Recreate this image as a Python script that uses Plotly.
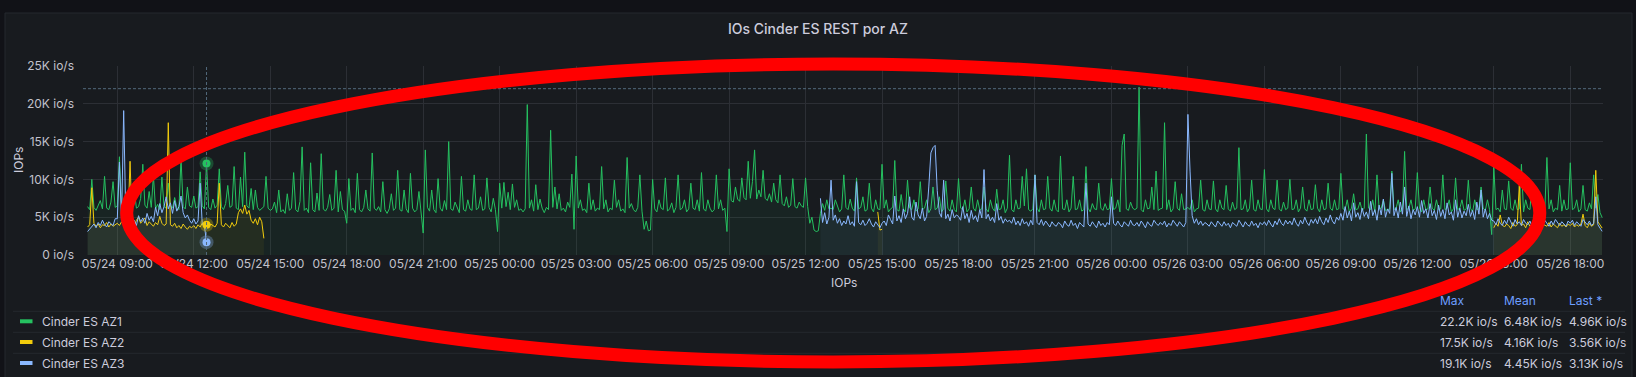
import pandas as pd
import plotly.graph_objects as go

# ---------------- data (values in K io/s, 5-minute samples) ----------------
green_start = "2023-05-24 07:50"
green_0524 = [
    6.4, 6.0,
    10.0, 6.3, 5.9, 6.6, 7.2, 6.1, 10.4, 6.2, 6.0, 7.0, 9.7, 6.3,
    6.5, 13.0, 6.4, 6.1, 8.0, 6.3, 6.8, 6.0, 8.6, 6.2, 6.4, 7.5,
    12.0, 6.6, 6.2, 8.4, 6.3, 10.5, 6.1, 6.7, 6.0, 10.3, 6.4, 6.2,
    9.5, 6.5, 6.2, 7.6, 6.3, 6.0, 12.8, 6.4, 6.1, 9.0, 6.5, 6.3,
    7.8, 6.2, 6.4, 11.0, 6.5, 6.1, 12.1, 6.3, 6.0, 7.4, 6.2, 6.6,
    11.4, 6.4, 6.0, 6.8, 9.2, 6.3, 6.5, 11.7, 6.2, 6.0, 10.3, 6.4,
    13.6, 6.5, 6.2, 8.8, 6.0, 8.6, 6.3, 5.9, 6.1, 6.4, 10.4, 6.2,
    5.9, 6.1, 7.0, 5.6, 8.6, 5.7, 6.0, 5.5, 8.1, 5.9, 6.2, 10.9,
    6.0, 5.7, 7.1, 14.3, 5.9, 6.2, 5.6, 12.2, 6.0, 5.7, 8.2, 5.9,
    13.4, 6.1, 5.8, 6.3, 8.0, 5.9, 6.2, 11.2, 5.7, 8.4, 6.0, 5.8,
    4.2, 10.1, 5.9, 6.2, 5.6, 10.8, 6.0, 5.7, 6.3, 8.6, 6.1, 5.8,
    13.5, 6.2, 5.9, 6.4, 5.7, 9.7, 6.0, 5.5, 6.1, 8.1, 5.9, 6.2,
    11.2, 6.0, 5.8, 8.6, 6.1, 5.6, 10.8, 6.2, 5.7, 6.0, 8.4, 5.9,
    2.9, 13.9, 6.3, 5.8, 8.6, 6.0, 5.6, 10.1, 6.2, 5.8, 7.2, 6.0,
    15.0, 6.1, 5.9, 7.0, 6.2, 5.6, 10.4, 6.0, 5.8, 7.3, 6.1, 5.9,
    10.6, 6.0, 6.2, 7.7, 5.9, 6.1, 10.2, 6.3, 5.7, 7.5, 6.0, 3.1,
]
green_0525 = [
    9.5, 6.2, 9.6, 6.4, 8.3, 6.0, 9.4, 6.3, 7.3, 5.9, 6.1, 5.7,
    6.1, 19.9, 6.2, 7.3, 5.8, 9.3, 6.0, 7.4, 6.2, 5.6, 6.3, 6.0,
    16.5, 6.3, 9.0, 6.1, 8.1, 5.9, 6.2, 5.7, 7.0, 6.3, 10.7, 3.4,
    13.1, 6.2, 7.3, 5.9, 6.1, 5.6, 9.5, 6.0, 7.3, 5.8, 6.2, 6.0,
    11.7, 6.1, 7.3, 5.7, 6.2, 6.0, 9.9, 6.3, 7.3, 5.8, 6.1, 5.6,
    12.9, 6.2, 6.8, 6.0, 5.7, 6.3, 10.6, 5.8, 3.4, 4.5, 3.2, 3.3,
    10.0, 6.1, 5.7, 7.3, 6.2, 6.0, 10.2, 5.8, 6.1, 6.9, 5.6, 6.3,
    10.6, 6.0, 6.2, 7.3, 5.7, 6.1, 9.5, 6.2, 6.0, 7.3, 5.8, 10.9,
    6.1, 5.8, 7.3, 6.2, 5.7, 6.0, 10.6, 6.1, 7.3, 5.9, 6.2, 3.1,
    11.4, 7.2, 7.0, 9.0, 7.4, 7.1, 10.2, 7.6, 7.3, 12.4, 7.5, 9.7,
    13.9, 7.4, 8.6, 7.7, 11.2, 7.5, 7.2, 8.1, 7.0, 9.5, 7.3, 6.9,
    10.6, 6.8, 6.5, 7.7, 6.3, 6.6, 10.1, 6.4, 6.2, 7.0, 6.5, 6.3,
    10.2, 6.4, 4.2, 5.0, 3.3, 3.1, 3.2, 5.5, 6.8, 5.9, 7.3, 6.1,
    6.2, 6.0, 7.3, 6.4, 5.7, 6.1, 10.6, 6.3, 6.0, 7.4, 6.2, 5.8,
    10.2, 6.1, 6.3, 7.7, 5.8, 6.0, 9.5, 6.2, 5.7, 7.3, 6.1, 6.0,
    12.0, 6.2, 7.3, 5.7, 6.1, 6.3, 12.5, 6.0, 5.8, 8.0, 6.1, 5.7,
    9.9, 6.2, 6.0, 7.3, 5.8, 6.1, 9.7, 6.0, 6.2, 7.3, 5.6, 6.1,
    9.0, 6.0, 6.2, 7.7, 5.7, 6.1, 9.8, 6.2, 5.8, 7.3, 6.0, 5.7,
    10.1, 6.2, 6.0, 7.3, 5.7, 6.1, 9.0, 6.2, 5.8, 7.3, 6.0, 6.1,
    9.0, 6.1, 5.7, 7.3, 6.2, 5.8, 8.7, 6.0, 6.1, 7.3, 5.6, 6.2,
    13.2, 6.0, 5.7, 7.3, 6.1, 6.2, 10.4, 6.5, 11.4, 6.0, 5.8, 6.1,
    10.6, 6.2, 5.7, 7.3, 6.0, 6.1, 10.4, 6.2, 5.8, 7.3, 6.0, 5.7,
    13.1, 6.1, 6.0, 7.3, 5.7, 6.2, 10.4, 6.0, 6.1, 7.3, 5.8, 6.0,
    11.7, 6.2, 5.7, 6.8, 6.1, 6.0, 9.5, 6.2, 5.9, 6.8, 6.0, 6.1,
]
green_0526 = [
    10.1, 6.0, 6.2, 7.3, 5.7, 14.5, 16.0, 6.1, 5.9, 7.0, 6.2, 6.0,
    6.2, 22.2, 6.0, 5.7, 7.3, 6.1, 6.2, 9.0, 6.0, 11.1, 5.9, 6.1,
    6.2, 17.5, 6.0, 7.3, 5.7, 6.1, 9.7, 6.2, 5.9, 8.1, 6.0, 6.1,
    6.3, 6.0, 7.3, 5.7, 6.1, 6.2, 9.9, 6.0, 5.8, 7.3, 6.1, 6.0,
    9.8, 6.1, 5.7, 7.3, 6.2, 6.0, 9.2, 6.1, 5.8, 7.0, 6.0, 6.2,
    14.2, 6.0, 6.1, 7.3, 5.7, 6.2, 9.9, 6.0, 5.8, 7.3, 6.1, 6.0,
    11.3, 6.1, 5.7, 7.3, 6.2, 6.0, 9.9, 6.1, 5.8, 7.0, 6.0, 6.2,
    10.0, 6.0, 6.1, 7.3, 5.7, 6.2, 9.0, 6.1, 5.8, 7.3, 6.0, 6.1,
    9.3, 6.2, 5.7, 7.3, 6.0, 6.1, 9.5, 6.2, 5.9, 7.3, 6.0, 6.1,
    10.8, 6.1, 6.0, 7.3, 5.7, 6.2, 8.1, 6.0, 6.1, 7.0, 5.9, 6.2,
    16.0, 6.2, 6.0, 7.3, 5.7, 10.6, 6.1, 6.2, 7.3, 5.9, 6.0, 6.1,
    11.1, 6.0, 6.2, 7.3, 5.7, 6.1, 13.7, 6.0, 6.2, 7.3, 5.9, 6.1,
    10.9, 6.2, 5.7, 7.3, 6.0, 6.1, 9.0, 6.2, 5.9, 7.3, 6.0, 6.1,
    10.6, 6.0, 6.2, 7.3, 5.7, 6.1, 10.2, 6.0, 6.2, 7.3, 5.9, 6.1,
    9.9, 6.2, 5.7, 7.3, 6.0, 6.1, 9.0, 6.2, 5.9, 7.3, 6.0, 2.7,
    11.7, 6.0, 6.2, 5.7, 8.6, 6.1, 6.0, 9.8, 6.2, 5.9, 7.3, 6.0,
    6.1, 12.0, 5.7, 7.3, 6.2, 6.0, 9.5, 6.1, 5.8, 7.3, 6.0, 6.2,
    6.0, 12.9, 6.1, 7.3, 5.7, 6.2, 6.0, 9.2, 5.8, 7.3, 6.0, 6.1,
    12.2, 6.0, 6.2, 7.3, 5.7, 6.1, 9.2, 6.0, 5.8, 6.9, 6.1, 10.6,
    6.2, 8.0, 5.6, 4.96,
]

yellow_seg1_start = "2023-05-24 07:50"
yellow_seg1 = [
    3.7, 4.0,
    8.9, 4.2, 3.8, 4.1, 3.6, 4.0, 3.9, 4.3, 3.7, 4.1, 3.8, 4.0,
    4.2, 3.9, 4.4, 4.0, 3.8, 4.3, 12.4, 4.1, 3.9, 4.6, 5.0, 4.2,
    4.5, 4.9, 3.9, 4.4, 4.1, 3.8, 4.3, 4.0, 5.1, 4.2, 3.9, 4.1,
    17.5, 4.0, 3.8, 4.2, 3.6, 3.9, 3.5, 4.1, 3.7, 3.4, 3.8, 3.6,
    3.9, 3.5, 4.0, 3.7, 4.2, 3.8, 4.0, 3.6, 4.1, 3.9, 3.7, 4.2,
    9.5, 4.0, 3.7, 4.2, 3.9, 3.6, 4.3, 3.8, 4.1, 5.6, 6.1, 5.5,
    6.6, 5.4, 5.9, 4.6, 4.2, 4.8, 4.0, 5.0, 4.4, 2.2,
]
yellow_seg2_start = "2023-05-25 14:50"
yellow_seg2 = [5.7, 3.3, 3.4]
yellow_seg3_start = "2023-05-26 15:00"
yellow_seg3 = [
    3.6, 4.2, 3.8, 5.3, 4.0, 3.7, 4.1, 3.9, 3.5, 4.3, 3.8, 4.0,
    9.2, 3.9, 4.1, 3.6, 4.4, 3.8, 4.0, 3.7, 4.2, 3.9, 3.6, 4.1,
    4.0, 3.8, 4.3, 3.7, 4.1, 3.9, 3.6, 4.2, 3.8, 4.0, 3.7, 4.1,
    3.9, 4.2, 3.7, 4.0, 3.8, 4.1, 5.4, 3.9, 3.6, 4.2, 3.8, 4.0,
    11.2, 4.4, 3.9, 3.56,
]

blue_seg1_start = "2023-05-24 07:50"
blue_seg1 = [
    3.1, 3.4,
    3.8, 4.1, 3.6, 4.3, 3.9, 4.6, 4.0, 3.7, 4.4, 4.2, 3.9, 4.8,
    4.8, 12.3, 4.5, 19.1, 5.0, 4.3, 5.4, 4.1, 4.6, 3.9, 5.2, 4.4,
    4.9, 4.2, 5.5, 4.6, 5.1, 4.4, 6.3, 5.2, 6.8, 5.6, 6.4, 7.7,
    6.1, 6.9, 5.5, 7.2, 5.8, 6.4, 7.8, 5.6, 4.9, 5.3, 4.6, 4.2,
    4.8, 4.1, 4.5, 9.5, 4.0, 3.9, 1.7,
]
blue_seg2_start = "2023-05-25 12:35"
blue_seg2 = [
    7.5, 4.3, 5.6, 4.1, 5.0,
    9.9, 4.6, 5.3, 4.2, 4.8, 3.9, 4.5, 4.1, 5.2, 4.0, 4.4, 3.8,
    9.7, 4.3, 4.0, 4.6, 3.9, 4.2, 4.8, 4.1, 3.7, 4.4, 4.0, 3.6,
    4.2, 4.5, 3.9, 5.3, 4.7, 4.1, 7.8, 4.5, 5.2, 4.3, 6.1, 4.8,
    5.5, 7.7, 5.0, 4.6, 7.0, 5.3, 4.8, 6.2, 4.5, 5.1, 9.0, 13.5,
    14.2, 14.5, 8.5, 5.6, 5.0, 9.9, 4.8, 5.4, 4.5, 6.0, 4.9, 5.3,
    5.1, 4.6, 6.4, 4.8, 5.5, 4.3, 5.9, 4.7, 5.2, 4.4, 6.0, 4.9,
    11.3, 4.8, 5.4, 4.5, 5.0, 4.3, 6.8, 4.6, 5.1, 4.2, 4.8, 4.4,
    4.6, 4.2, 5.0, 4.0, 4.5, 3.9, 4.8, 4.1, 4.4, 3.8, 4.6, 4.0,
    10.6, 4.3, 4.0, 4.7, 3.9, 4.5, 4.1, 3.7, 4.4, 4.0, 3.8, 4.3,
    4.1, 3.6, 4.5, 4.0, 3.8, 4.6, 3.9, 4.2, 3.5, 4.3, 4.0, 3.7,
    9.5, 4.1, 3.8, 4.4, 4.0, 3.6, 4.5, 3.9, 4.2, 3.7, 4.3, 4.0,
    7.7, 4.2, 3.9, 4.5, 4.0, 3.7, 4.4, 4.1, 3.8, 4.6, 4.0, 3.9,
    4.3, 3.8, 4.5, 4.1, 3.6, 4.4, 4.0, 3.8, 4.6, 4.2, 3.9, 4.3,
    4.0, 4.5, 3.7, 4.2, 3.9, 4.6, 4.1, 3.8, 4.4, 4.0, 3.7, 4.3,
    18.6, 11.1, 5.2, 4.2, 4.8, 4.0, 4.5, 3.9, 4.3, 4.1, 3.8, 4.4,
    4.0, 3.7, 4.5, 4.1, 3.8, 4.4, 3.9, 4.2, 3.6, 4.3, 4.0, 3.8,
    4.6, 4.1, 3.7, 4.4, 4.0, 3.8, 4.5, 3.9, 4.2, 3.6, 4.3, 4.0,
    4.4, 3.9, 4.6, 4.1, 3.7, 4.5, 4.0, 4.8, 4.2, 3.9, 4.6, 4.1,
    4.5, 4.0, 4.9, 4.2, 3.8, 4.6, 4.1, 5.0, 4.3, 3.9, 4.7, 4.2,
    4.8, 4.1, 5.1, 4.4, 4.0, 4.9, 4.3, 5.3, 4.5, 4.1, 5.0, 4.6,
    5.5, 4.6, 6.4, 4.9, 5.8, 4.5, 6.9, 5.0, 5.6, 4.7, 6.2, 5.1,
    5.7, 4.8, 7.1, 5.2, 6.0, 4.6, 6.6, 5.3, 7.4, 5.0, 6.1, 5.5,
    10.8, 5.2, 6.3, 4.9, 7.0, 5.4, 9.0, 5.1, 6.5, 4.8, 6.0, 5.3,
    6.4, 5.0, 7.2, 5.5, 6.1, 4.9, 6.8, 5.2, 5.9, 4.7, 6.6, 5.1,
    6.0, 4.8, 6.9, 5.3, 5.7, 4.6, 7.3, 5.0, 6.2, 4.9, 5.8, 5.2,
    6.7, 5.1, 5.9, 4.7, 7.0, 5.4, 8.6, 5.0, 6.1, 4.8, 5.5, 4.6,
    4.5, 4.0, 4.8, 4.2, 3.9, 4.6, 4.1, 5.0, 4.3, 3.8, 4.7, 4.1,
    4.4, 3.9, 4.7, 4.2, 4.0, 4.5, 3.8, 4.6, 4.1, 3.9, 4.4, 4.0,
    4.6, 4.1, 3.8, 4.5, 4.0, 4.7, 4.2, 3.9, 4.4, 4.1, 3.8, 4.5,
    4.2, 4.6, 3.9, 4.4, 4.1, 3.8, 4.7, 4.3, 4.0, 4.5, 3.9, 4.2,
    7.7, 4.0, 3.6, 3.13,
]

series_names = ["Cinder ES AZ1", "Cinder ES AZ2", "Cinder ES AZ3"]
series_colors = ["#25c160", "#f2cc0c", "#8ab8ff"]
series_fills = ["rgba(37,193,96,0.06)", "rgba(242,204,12,0.06)", "rgba(138,184,255,0.06)"]
legend_headers = ["Max", "Mean", "Last *"]
legend_max = ["22.2K io/s", "17.5K io/s", "19.1K io/s"]
legend_mean = ["6.48K io/s", "4.16K io/s", "4.45K io/s"]
legend_last = ["4.96K io/s", "3.56K io/s", "3.13K io/s"]

y_tick_vals = [0, 5, 10, 15, 20, 25]
y_tick_text = ["0 io/s", "5K io/s", "10K io/s", "15K io/s", "20K io/s", "25K io/s"]
x_range = ["2023-05-24 07:39:15", "2023-05-26 19:17:00"]
x_tick0 = "2023-05-24 00:00"
cursor_time = "2023-05-24 12:30"
cursor_value = 22.0

title_text = "IOs Cinder ES REST por AZ"
axis_title = "IOPs"

# ---------------- layout geometry ----------------
W, H = 1636, 377
L, R, T, B = 83, 33, 66, 122
PW, PH = W - L - R, H - T - B


def px(x):
    return (x - L) / PW


def py(y):
    return (H - B - y) / PH


def build(segments):
    """Return a list of (times, values) pieces, one per contiguous segment."""
    out = []
    for start, vals in segments:
        t = list(pd.date_range(start, periods=len(vals), freq="5min"))
        out.append((t, list(vals)))
    return out


def value_at(pieces, t):
    t = pd.Timestamp(t)
    for xs, ys in pieces:
        for x, y in zip(xs, ys):
            if x == t:
                return y
    return None


series = [
    build([(green_start, green_0524 + green_0525 + green_0526)]),
    build([(yellow_seg1_start, yellow_seg1), (yellow_seg2_start, yellow_seg2),
           (yellow_seg3_start, yellow_seg3)]),
    build([(blue_seg1_start, blue_seg1), (blue_seg2_start, blue_seg2)]),
]

FONT = "Inter, Roboto, 'DejaVu Sans', sans-serif"
TXT = "#ccccdc"
TICK = "#c2c2cc"
GRID = "#2c2f35"

fig = go.Figure()
for pieces, name, col, fc in zip(series, series_names, series_colors, series_fills):
    for xs, ys in pieces:
        fig.add_trace(go.Scatter(x=xs, y=ys, name=name, mode="lines",
                                 line=dict(color=col, width=1), fill="tozeroy",
                                 fillcolor=fc, hoverinfo="skip"))

# hover points at the cursor time
for pieces, col in zip(series, series_colors):
    v = value_at(pieces, cursor_time)
    if v is None:
        continue
    fig.add_trace(go.Scatter(x=[pd.Timestamp(cursor_time)], y=[v], mode="markers",
                             marker=dict(size=14, color=col, opacity=0.3, line=dict(width=0)),
                             hoverinfo="skip"))
    fig.add_trace(go.Scatter(x=[pd.Timestamp(cursor_time)], y=[v], mode="markers",
                             marker=dict(size=8, color=col, line=dict(width=0)),
                             hoverinfo="skip"))

shapes = []
# panel
shapes.append(dict(type="rect", xref="paper", yref="paper", layer="below",
                   x0=px(5), x1=px(1632), y0=py(390), y1=py(13),
                   fillcolor="#181b1f", line=dict(color="#25282e", width=1)))
# legend row separators
for yy in [311.3, 332.3, 353.3]:
    shapes.append(dict(type="line", xref="paper", yref="paper", layer="below",
                       x0=px(13), x1=px(1625), y0=py(yy), y1=py(yy),
                       line=dict(color="#25282d", width=1)))
# legend swatches
row_y = [321.3, 342.0, 363.0]
for yy, col in zip(row_y, series_colors):
    shapes.append(dict(type="rect", xref="paper", yref="paper", layer="above",
                       x0=px(20), x1=px(32.5), y0=py(yy + 2), y1=py(yy - 2),
                       fillcolor=col, line=dict(width=0)))
# crosshair
shapes.append(dict(type="line", xref="x", yref="paper", layer="above",
                   x0=cursor_time, x1=cursor_time, y0=0, y1=1,
                   line=dict(color="#52687a", width=1, dash="3px,2px")))
shapes.append(dict(type="line", xref="paper", yref="y", layer="above",
                   x0=0, x1=1, y0=cursor_value, y1=cursor_value,
                   line=dict(color="#52687a", width=1, dash="3px,2px")))
# red ellipse annotation
shapes.append(dict(type="circle", xref="paper", yref="paper", layer="above",
                   x0=px(126.7), x1=px(1539.8), y0=py(362), y1=py(64),
                   line=dict(color="#ff0000", width=13)))

annotations = [
    dict(text=title_text, x=px(818), y=py(29), xref="paper", yref="paper",
         showarrow=False, xanchor="center", yanchor="middle",
         font=dict(family=FONT, size=14, color=TXT, weight=500)),
    dict(text=axis_title, x=px(18), y=py(160), xref="paper", yref="paper",
         showarrow=False, xanchor="center", yanchor="middle", textangle=-90,
         font=dict(family=FONT, size=12, color=TXT)),
    dict(text=axis_title, x=px(844), y=py(282), xref="paper", yref="paper",
         showarrow=False, xanchor="center", yanchor="middle",
         font=dict(family=FONT, size=12, color=TXT)),
]
col_x = [1437.7, 1502.0, 1567.0]
for cx, hd in zip(col_x, legend_headers):
    annotations.append(dict(text=hd, x=px(cx), y=py(300), xref="paper", yref="paper",
                            showarrow=False, xanchor="left", yanchor="middle",
                            font=dict(family=FONT, size=12, color="#6e9fff")))
for i, yy in enumerate(row_y):
    annotations.append(dict(text=series_names[i], x=px(40), y=py(yy), xref="paper",
                            yref="paper", showarrow=False, xanchor="left", yanchor="middle",
                            font=dict(family=FONT, size=12, color=TXT)))
    for cx, vals in zip(col_x, [legend_max, legend_mean, legend_last]):
        annotations.append(dict(text=vals[i], x=px(cx), y=py(yy), xref="paper",
                                yref="paper", showarrow=False, xanchor="left",
                                yanchor="middle",
                                font=dict(family=FONT, size=12, color=TXT)))

fig.update_layout(
    width=W, height=H,
    margin=dict(l=L, r=R, t=T, b=B, pad=0),
    paper_bgcolor="#111217", plot_bgcolor="rgba(0,0,0,0)",
    showlegend=False, font=dict(family=FONT, size=12, color=TXT),
    shapes=shapes, annotations=annotations,
    xaxis=dict(type="date", range=x_range, tickformat="%m/%d %H:%M",
               tick0=x_tick0, dtick=3 * 3600 * 1000, showgrid=True, gridcolor=GRID,
               gridwidth=1, zeroline=False, showline=False, ticks="",
               tickfont=dict(family=FONT, size=12, color=TICK), fixedrange=True),
    yaxis=dict(range=[0, 25], tickmode="array", tickvals=y_tick_vals,
               ticktext=y_tick_text, showgrid=True, gridcolor=GRID, gridwidth=1,
               zeroline=False, showline=False, ticks="", ticklabelstandoff=8,
               tickfont=dict(family=FONT, size=12, color=TICK), fixedrange=True),
)

fig.write_html("out.html", config={"displayModeBar": False},
               post_script="document.body.style.margin='0';document.body.style.overflow='hidden';")
